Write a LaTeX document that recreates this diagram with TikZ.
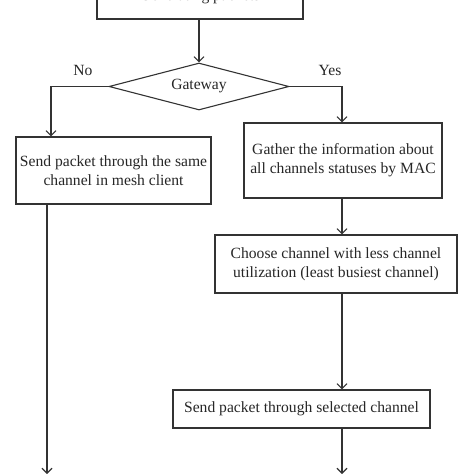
\documentclass[tikz,border=0pt]{standalone}
\usepackage{fontspec}
\setmainfont{Liberation Serif}
\usetikzlibrary{shapes.geometric,arrows.meta}
\begin{document}
\begin{tikzpicture}[x=1pt, y=-1pt, line width=1.1pt, draw=black!80,
  every node/.style={text=black!85, font=\fontsize{15.6}{19}\selectfont, align=center},
  box/.style={rectangle, draw=black!80, inner sep=0pt},
  arr/.style={-{Straight Barb[length=5pt,width=10pt,line width=1.1pt]}}]
\useasboundingbox (0,0) rectangle (474,474);

\node[box, minimum width=206pt, minimum height=44pt] (gen) at (200,-3) {Generating packets};
\node[diamond, draw=black!80, aspect=3.8, inner sep=0pt, minimum width=180pt, minimum height=47pt] (gw) at (199,86.5) {Gateway};
\node[box, minimum width=195pt, minimum height=67pt] (same) at (113.5,170.5) {Send packet through the same\\channel in mesh client};
\node[box, minimum width=198pt, minimum height=75pt] (gather) at (343,160.5) {Gather the information about\\all channels statuses by MAC};
\node[box, minimum width=242pt, minimum height=58pt] (choose) at (336,264) {Choose channel with less channel\\utilization (least busiest channel)};
\node[box, minimum width=257pt, minimum height=38pt] (send) at (301.5,409) {Send packet through selected channel};

\node (no) at (83,70) {No};
\node (yes) at (330,70) {Yes};

\coordinate (nocorner) at (51,86.5);
\coordinate (yescorner) at (342,86.5);
\coordinate (leftend) at (47,474);
\coordinate (rightend) at (342,474);

\draw[arr] (gen.south -| gw.north) -- (gw.north);
\draw[arr] (gw.west) -- (nocorner) -- (nocorner |- same.north);
\draw[arr] (gw.east) -- (yescorner) -- (yescorner |- gather.north);
\draw[arr] (yescorner |- gather.south) -- (yescorner |- choose.north);
\draw[arr] (yescorner |- choose.south) -- (yescorner |- send.north);
\draw[arr] (rightend |- send.south) -- (rightend);
\draw[arr] (leftend |- same.south) -- (leftend);
\end{tikzpicture}
\end{document}
